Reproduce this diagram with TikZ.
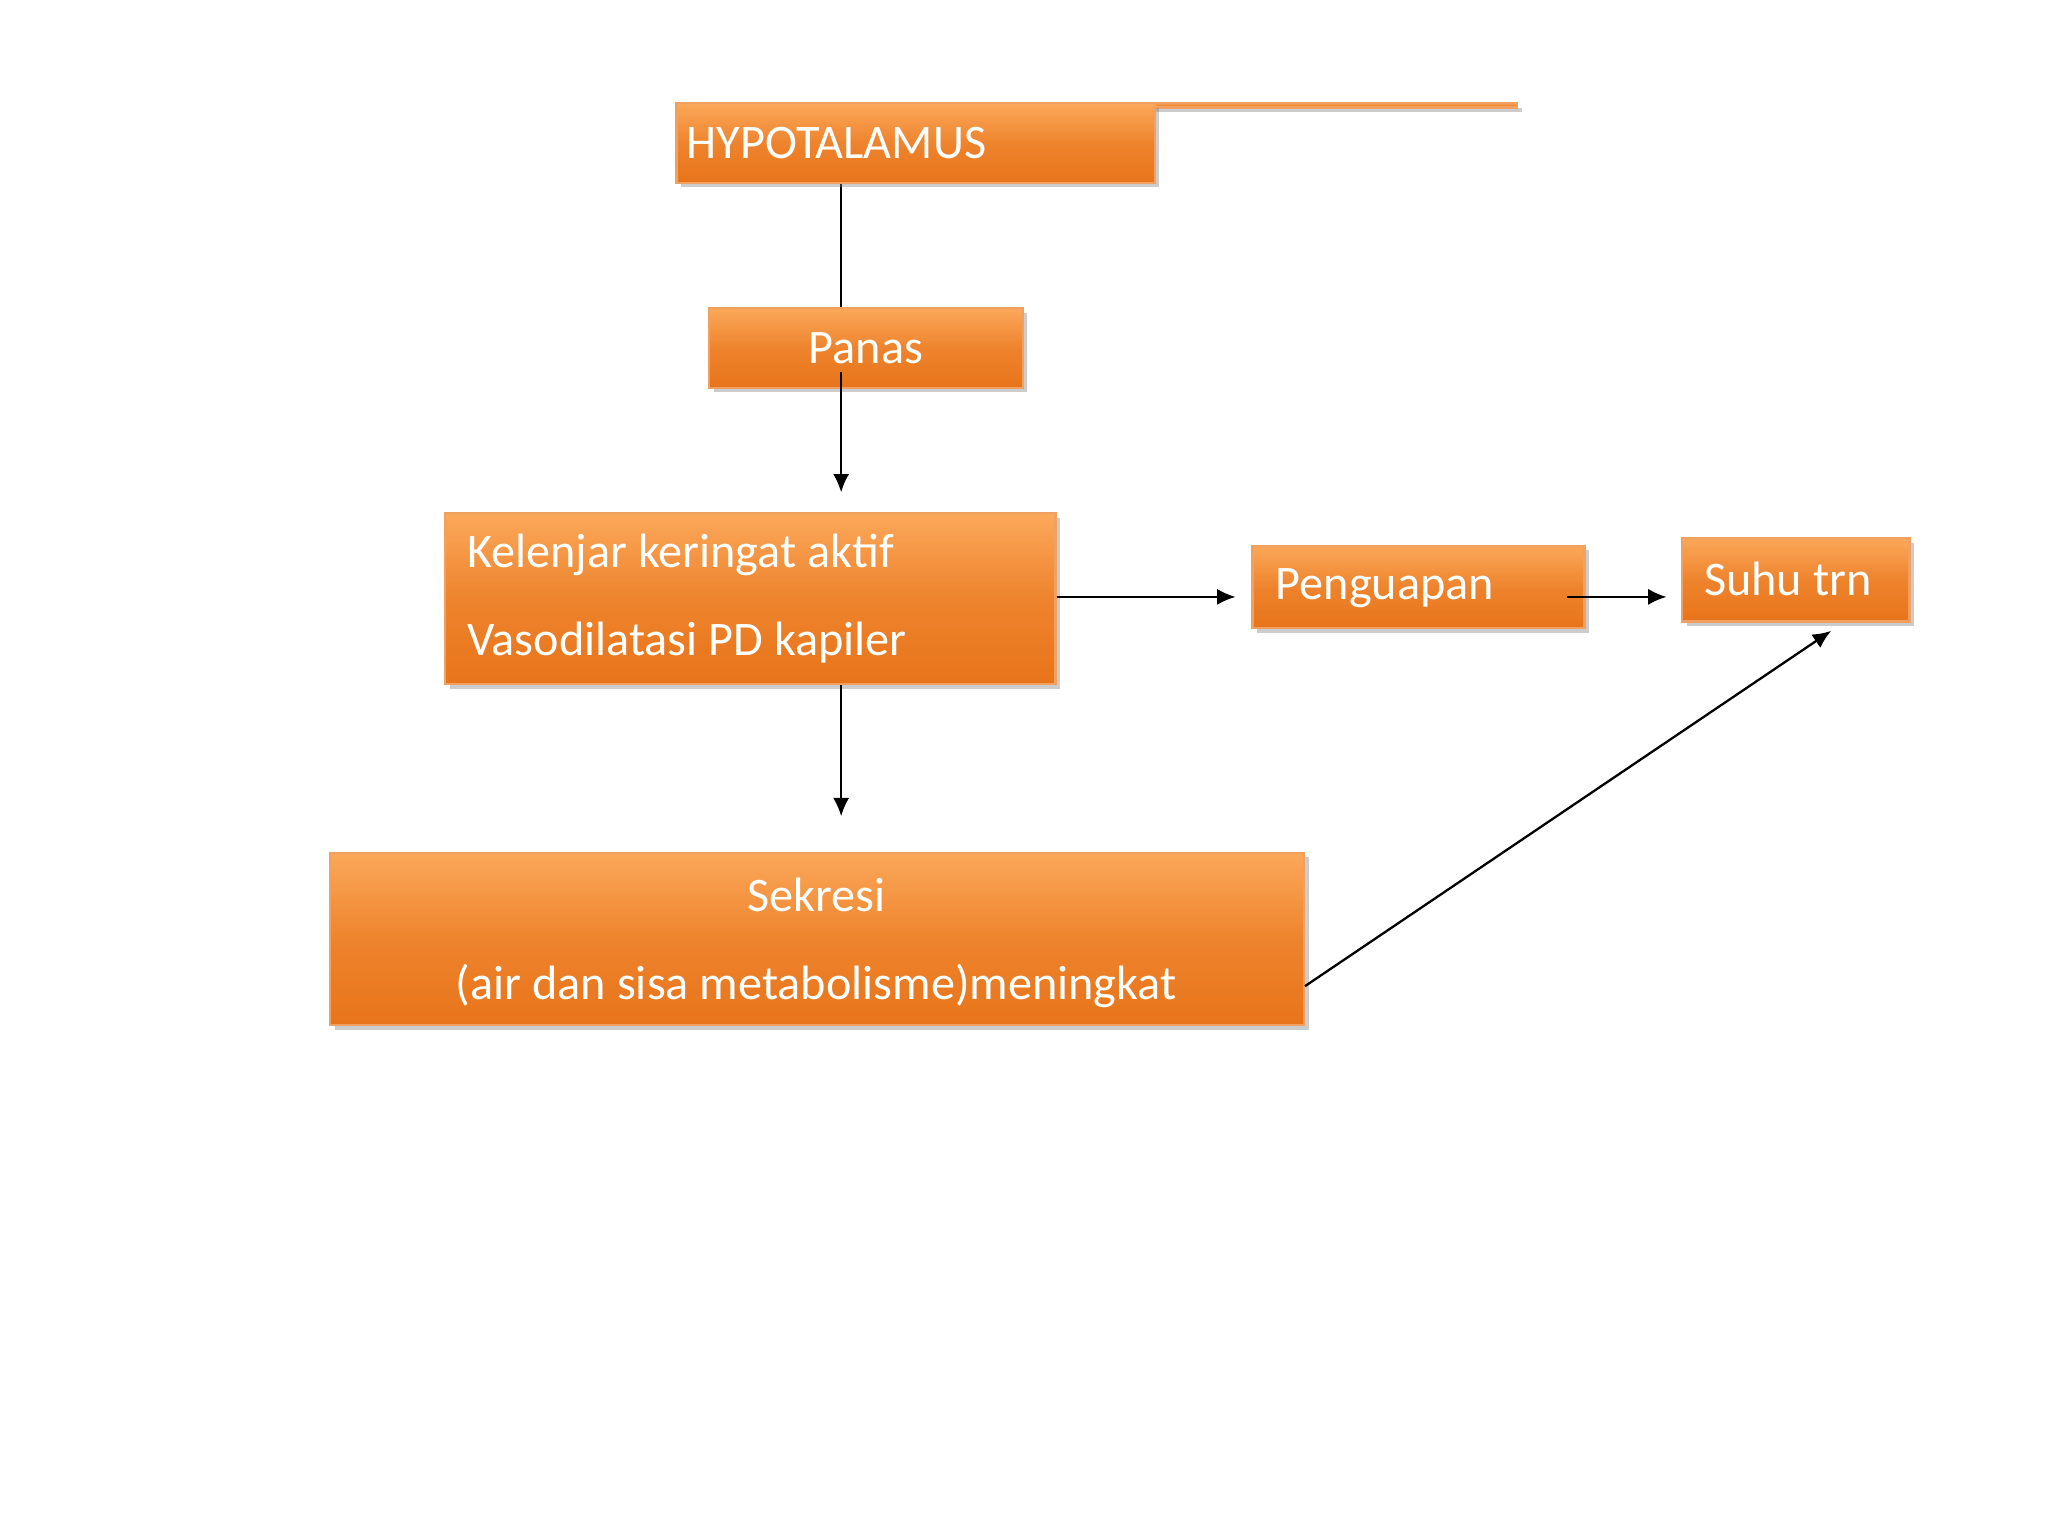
\documentclass[tikz,border=0pt]{standalone}
\usepackage{fontspec}
\setmainfont{Carlito}
\usetikzlibrary{shadows,arrows.meta}
\definecolor{otop}{HTML}{FBA85A}
\definecolor{obot}{HTML}{E8741A}
\definecolor{oline}{HTML}{F0A060}
\tikzset{
  box/.style={draw=oline,line width=0.5pt,top color=otop,bottom color=obot,middle color=obot!70!otop,
    drop shadow={shadow xshift=1pt,shadow yshift=-1pt,opacity=0.4},text=white,font=\fontsize{10.5}{12}\selectfont,inner sep=0pt},
  conn/.style={line width=0.5pt,black},
  arr/.style={conn,-{Latex[length=4pt,width=3.5pt]}}
}
\begin{document}
\begin{tikzpicture}[x=0.01cm,y=-0.01cm]
\useasboundingbox (0,0) rectangle (1568,1176);
\draw[conn] (644,139) -- (644,235);
\node[box,minimum width=366\pgflinewidth,anchor=north west] (h) at (517,78) {};
\node[box,anchor=north west,minimum width=3.66cm,minimum height=0.61cm,text width=3.5cm,align=left] (h) at (517,78) {HYPOTALAMUS};
\node[box,anchor=north west,minimum width=2.40cm,minimum height=0.61cm,align=center] (p) at (542,235) {Panas};
\node[box,anchor=north west,minimum width=4.67cm,minimum height=1.31cm] (k) at (340,392) {};
\node[text=white,font=\fontsize{10.5}{12}\selectfont,anchor=west,inner sep=0pt] (k1) at (357,425) {Kelenjar keringat aktif};
\node[text=white,font=\fontsize{10.5}{12}\selectfont,anchor=west,inner sep=0pt] (k2) at (357,492) {Vasodilatasi PD kapiler};
\node[box,anchor=north west,minimum width=2.54cm,minimum height=0.63cm] (g) at (958,417) {};
\node[text=white,font=\fontsize{10.5}{12}\selectfont,anchor=west,inner sep=0pt] (gt) at (976,450) {Penguapan};
\node[box,anchor=north west,minimum width=1.74cm,minimum height=0.64cm] (s) at (1287,411) {};
\node[text=white,font=\fontsize{10.5}{12}\selectfont,anchor=west,inner sep=0pt] (st) at (1304,443) {Suhu trn};
\node[box,anchor=north west,minimum width=7.45cm,minimum height=1.32cm] (x) at (252,652) {};
\node[text=white,font=\fontsize{10.5}{12}\selectfont,inner sep=0pt] (x1) at (625,685) {Sekresi};
\node[text=white,font=\fontsize{10.5}{12}\selectfont,inner sep=0pt] (x2) at (625,755) {(air dan sisa metabolisme)meningkat};
\coordinate (a1) at (644,285);
\coordinate (a2) at (644,377);
\coordinate (b1) at (644,625);
\coordinate (c1) at (946,457);
\coordinate (d0) at (1200,457);
\coordinate (d1) at (1276,457);
\coordinate (e1) at (1402,483);
\draw[arr] (a1) -- (a2);
\draw[arr] (k.south -| a1) -- (b1);
\draw[arr] (k.east |- c1) -- (c1);
\draw[arr] (d0) -- (d1);
\draw[arr] (x.east |- x2) -- (e1);
\end{tikzpicture}
\end{document}
